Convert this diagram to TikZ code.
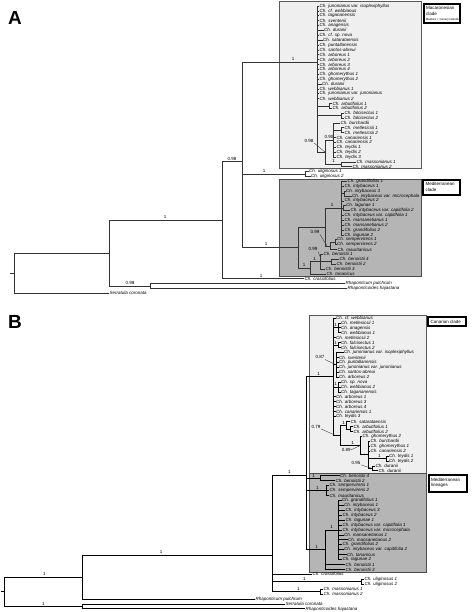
\documentclass[tikz,border=0pt]{standalone}
\usepackage{fontspec}
\setmainfont{Liberation Sans}
\definecolor{lbox}{RGB}{239,239,239}
\definecolor{dbox}{RGB}{181,181,181}
\newcommand{\tsz}{\fontsize{4.5}{5}\selectfont}
\newcommand{\ssz}{\fontsize{2.9}{3.4}\selectfont}
\tikzset{
  brA/.style={draw=black!80, line width=0.55pt},
  brB/.style={draw=black, line width=0.8pt},
  tx/.style={font=\tsz\itshape, anchor=west, inner sep=0.5pt},
  lbl/.style={font=\tsz, inner sep=0.4pt, anchor=south},
  plbl/.style={font=\tsz, inner sep=0.4pt},
  ptr/.style={draw=black!80, line width=0.35pt},
  lboxst/.style={fill=lbox, draw=black!65, line width=0.6pt},
  dboxst/.style={fill=dbox, draw=black!70, line width=0.6pt},
  labbox/.style={draw=black, line width=1.3pt, fill=white},
  labtxt/.style={font=\tsz, inner sep=0pt, anchor=west},
  labsm/.style={font=\ssz, inner sep=0pt, anchor=west},
  panel/.style={font=\fontsize{19}{19}\selectfont\bfseries, inner sep=0pt},
}
\begin{document}
\begin{tikzpicture}[x=1pt,y=-1pt]
\useasboundingbox (0,0) rectangle (474,612);
% ================= PANEL A =================
\node[panel] (pA) at (15,18) {A};
\draw[lboxst] (279,1.5) rectangle (421,168);
\draw[dboxst] (279,179) rectangle (421,276);
\draw[labbox] (424,4) rectangle (460,23);
\node[labtxt] (macA1) at (426,8) {Macaronesian};
\node[labtxt] (macA2) at (426,14) {clade};
\node[labsm] (macA3) at (425.6,19.5) {Madeira + Canary Islands};
\draw[labbox] (423,180) rectangle (460,195);
\node[labtxt] (medA1) at (425.5,184.3) {Mediterranean};
\node[labtxt] (medA2) at (425.5,190) {clade};

% Macaronesian clade tips
\node[tx] (a0) at (319,6.00) {Ch. junonianus var. isoplexiphyllus};
\node[tx] (a1) at (319,10.87) {Ch. cf. webbianus};
\node[tx] (a2) at (319,15.74) {Ch. tagananensis};
\node[tx] (a3) at (319,20.61) {Ch. sventenii};
\node[tx] (a4) at (319,25.48) {Ch. anagensis};
\node[tx] (a5) at (323.5,30.35) {Ch. duranii};
\node[tx] (a6) at (319,35.22) {Ch. cf. sp. nova};
\node[tx] (a7) at (322.5,40.09) {Ch. satarataensis};
\node[tx] (a8) at (319,44.96) {Ch. puntallanensis};
\node[tx] (a9) at (319,49.83) {Ch. santos-abreui};
\node[tx] (a10) at (319,54.70) {Ch. arboreus 1};
\node[tx] (a11) at (319,59.57) {Ch. arboreus 2};
\node[tx] (a12) at (319,64.44) {Ch. arboreus 3};
\node[tx] (a13) at (319,69.31) {Ch. arboreus 4};
\node[tx] (a14) at (319,74.18) {Ch. ghomerythus 1};
\node[tx] (a15) at (319,79.05) {Ch. ghomerythus 2};
\node[tx] (a16) at (321.5,83.92) {Ch. duranii};
\node[tx] (a17) at (319,88.79) {Ch. webbianus 1};
\node[tx] (a18) at (319,93.66) {Ch. junonianus var. junonianus};
\node[tx] (a19) at (319,98.53) {Ch. webbianus 2};
\node[tx] (a20) at (332,103.40) {Ch. arbutifolius 1};
\node[tx] (a21) at (332,108.27) {Ch. arbutifolius 2};
\node[tx] (a22) at (344,113.14) {Ch. falcisectus 1};
\node[tx] (a23) at (344,118.01) {Ch. falcisectus 2};
\node[tx] (a24) at (340,122.88) {Ch. burchardii};
\node[tx] (a25) at (344,127.75) {Ch. metlesicsii 1};
\node[tx] (a26) at (344,132.62) {Ch. metlesicsii 2};
\node[tx] (a27) at (336,137.49) {Ch. canariensis 1};
\node[tx] (a28) at (336,142.36) {Ch. canariensis 2};
\node[tx] (a29) at (336,147.23) {Ch. teydis 1};
\node[tx] (a30) at (336,152.10) {Ch. teydis 2};
\node[tx] (a31) at (336,156.97) {Ch. teydis 3};
\node[tx] (a32) at (356,161.84) {Ch. massonianus 1};
\node[tx] (a33) at (352,166.71) {Ch. massonianus 2};
\node[tx] (a34) at (308.5,171.58) {Ch. uliginosus 1};
\node[tx] (a35) at (310.5,176.45) {Ch. uliginosus 2};
% Mediterranean clade tips
\node[tx] (a36) at (347,181.32) {Ch. grandifolius 1};
\node[tx] (a37) at (344,186.19) {Ch. intybaceus 1};
\node[tx] (a38) at (345.5,191.06) {Ch. intybaceus 3};
\node[tx] (a39) at (351.5,195.93) {Ch. intybaceus var. microcephala};
\node[tx] (a40) at (344,200.80) {Ch. intybaceus 2};
\node[tx] (a41) at (345.5,205.67) {Ch. lagunae 1};
\node[tx] (a42) at (350,210.54) {Ch. intybaceus var. capitifolia 2};
\node[tx] (a43) at (344,215.41) {Ch. intybaceus var. capitifolia 1};
\node[tx] (a44) at (344,220.28) {Ch. mansanetianus 1};
\node[tx] (a45) at (344,225.15) {Ch. mansanetianus 2};
\node[tx] (a46) at (344,230.02) {Ch. grandifolius 2};
\node[tx] (a47) at (344,234.89) {Ch. lagunae 2};
\node[tx] (a48) at (336.5,239.76) {Ch. sempervirens 1};
\node[tx] (a49) at (336.5,244.63) {Ch. sempervirens 2};
\node[tx] (a50) at (337,249.50) {Ch. mauritanicus};
\node[tx] (a51) at (323,254.37) {Ch. benoistii 1};
\node[tx] (a52) at (339,259.24) {Ch. benoistii 4};
\node[tx] (a53) at (336,264.11) {Ch. benoistii 2};
\node[tx] (a54) at (325,268.98) {Ch. benoistii 3};
\node[tx] (a55) at (326,273.85) {Ch. tananicus};
\node[tx] (a56) at (304,278.72) {Ch. crassifolius};
\node[tx] (a57) at (345,283.59) {Rhaponticum pulchrum};
\node[tx] (a58) at (347,288.46) {Rhaponticoides hajastana};
\node[tx] (a59) at (109,293.33) {Serratula coronata};

% internal nodes A
\coordinate (M) at (317,62);
\coordinate (arbA) at (329,105.84);
\coordinate (falA) at (341,115.58);
\coordinate (n98A) at (325,152.1);
\coordinate (n90A) at (333,139.9);
\coordinate (metA) at (341,130.19);
\coordinate (masA) at (341,164.28);
\coordinate (uliA) at (305,174.0);
\coordinate (medA) at (298,247.4);
\coordinate (n1A) at (325,227.0);
\coordinate (n1aA) at (341,208.1);
\coordinate (p1A) at (344,193.5);
\coordinate (p2A) at (343.5,208.1);
\coordinate (semA) at (330,245.87);
\coordinate (sppA) at (335,242.2);
\coordinate (n2A) at (310,267.8);
\coordinate (n3A) at (320,261.68);
\coordinate (b42A) at (331,261.68);
\coordinate (nY) at (242,161.7);
\coordinate (nX) at (222,220.2);
\coordinate (nA1) at (109,253.1);
\coordinate (rhA) at (150,286.0);
\coordinate (rA) at (14,273.2);
\coordinate (rAt) at (10,273.2);

\begin{scope}[brA]
\foreach \i in {0,...,19} \draw (M) |- (a\i);
\draw (M) |- (arbA); \draw (arbA) |- (a20); \draw (arbA) |- (a21);
\draw (M) |- (falA); \draw (falA) |- (a22); \draw (falA) |- (a23);
\draw (M) |- (n98A);
\draw (n98A) |- (n90A); \draw (n98A) |- (masA);
\draw (n90A) |- (a24); \draw (n90A) |- (metA);
\draw (metA) |- (a25); \draw (metA) |- (a26);
\foreach \i in {27,...,31} \draw (n90A) |- (a\i);
\draw (masA) |- (a32); \draw (masA) |- (a33);
\draw (nY) |- (M); \draw (nY) |- (uliA); \draw (nY) |- (medA);
\draw (uliA) |- (a34); \draw (uliA) |- (a35);
\draw (medA) |- (n1A); \draw (medA) |- (n2A);
\draw (n1A) |- (n1aA); \draw (n1A) |- (semA);
\foreach \i in {36,37,40,43,44,45,46,47} \draw (n1aA) |- (a\i);
\draw (n1aA) |- (p1A); \draw (p1A) |- (a38); \draw (p1A) |- (a39);
\draw (n1aA) |- (p2A); \draw (p2A) |- (a41); \draw (p2A) |- (a42);
\draw (semA) |- (sppA); \draw (sppA) |- (a48); \draw (sppA) |- (a49);
\draw (semA) |- (a50);
\draw (n2A) |- (n3A); \draw (n2A) |- (a55);
\draw (n3A) |- (a51); \draw (n3A) |- (b42A); \draw (n3A) |- (a54);
\draw (b42A) |- (a52); \draw (b42A) |- (a53);
\draw (nX) |- (nY); \draw (nX) |- (a56);
\draw (nA1) |- (nX); \draw (nA1) |- (rhA);
\draw (rhA) |- (a57); \draw (rhA) |- (a58);
\draw (rA) |- (nA1); \draw (rA) |- (a59);
\draw (rAt) -- (rA);
\end{scope}

% support values A
\node[lbl] (sA1) at (293,61) {1};
\node[lbl] (sA2) at (232,160.7) {0.98};
\node[lbl] (sA3) at (264,173) {1};
\node[lbl] (sA4) at (266,246.4) {1};
\node[lbl] (sA5) at (261,277.7) {1};
\node[lbl] (sA6) at (165,219.2) {1};
\node[lbl] (sA7) at (130,285) {0.98};
\node[plbl] (sA8) at (309,140.7) {0.98};
\draw[ptr] (sA8.south east) -- (n98A);
\node[lbl] (sA9) at (329,139.2) {0.90};
\node[lbl] (sA10) at (333.5,163.3) {1};
\node[lbl] (sA11) at (332,207.1) {1};
\coordinate (semAs) at (327,245.87);
\node[plbl] (sA12) at (315,232.3) {0.99};
\draw[ptr] (sA12.south east) -- (semAs);
\coordinate (n3Ap) at (320,256.5);
\node[plbl] (sA13) at (313,249.3) {0.99};
\draw[ptr] (sA13.south east) -- (n3Ap);
\node[lbl] (sA14) at (314.5,260.9) {1};
\node[lbl] (sA15) at (304,266.8) {1};

% ================= PANEL B =================
\node[panel] (pB) at (15,322) {B};
\draw[lboxst] (309.5,315) rectangle (426.5,473);
\draw[dboxst] (309.5,473) rectangle (426.5,572);
\draw[labbox] (428,317) rectangle (466,326);
\node[labtxt] (canB1) at (430.5,321.5) {Canarian clade};
\draw[labbox] (429,475) rectangle (467,492);
\node[labtxt] (medB1) at (431,479.5) {Mediterranean};
\node[labtxt] (medB2) at (431,485.8) {lineages};

\node[tx] (b0) at (335.5,318.00) {Ch. cf. webbianus};
\node[tx] (b1) at (340.5,322.93) {Ch. metlesicsii 1};
\node[tx] (b2) at (340.5,327.86) {Ch. anagensis};
\node[tx] (b3) at (340.5,332.79) {Ch. webbianus 1};
\node[tx] (b4) at (335.5,337.72) {Ch. metlesicsii 2};
\node[tx] (b5) at (340.5,342.65) {Ch. falcisectus 1};
\node[tx] (b6) at (340.5,347.58) {Ch. falcisectus 2};
\node[tx] (b7) at (343.5,352.51) {Ch. junonianus var. isoplexiphyllus};
\node[tx] (b8) at (338.5,357.44) {Ch. sventenii};
\node[tx] (b9) at (338.5,362.37) {Ch. puntallanensis};
\node[tx] (b10) at (338.5,367.30) {Ch. junonianus var. junonianus};
\node[tx] (b11) at (338.5,372.23) {Ch. santos-abreui};
\node[tx] (b12) at (338.5,377.16) {Ch. arboreus 2};
\node[tx] (b13) at (340.5,382.09) {Ch. sp. nova};
\node[tx] (b14) at (340.5,387.02) {Ch. webbianus 2};
\node[tx] (b15) at (340.5,391.95) {Ch. tagananensis};
\node[tx] (b16) at (335.5,396.88) {Ch. arboreus 1};
\node[tx] (b17) at (335.5,401.81) {Ch. arboreus 3};
\node[tx] (b18) at (335.5,406.74) {Ch. arboreus 4};
\node[tx] (b19) at (335.5,411.67) {Ch. canariensis 1};
\node[tx] (b20) at (335.5,416.60) {Ch. teydis 3};
\node[tx] (b21) at (350,421.53) {Ch. satarataensis};
\node[tx] (b22) at (353,426.46) {Ch. arbutifolius 1};
\node[tx] (b23) at (353,431.39) {Ch. arbutifolius 2};
\node[tx] (b24) at (362,436.32) {Ch. ghomerythus 2};
\node[tx] (b25) at (370,441.25) {Ch. burchardii};
\node[tx] (b26) at (370,446.18) {Ch. ghomerythus 1};
\node[tx] (b27) at (370,451.11) {Ch. canariensis 2};
\node[tx] (b28) at (388.5,456.04) {Ch. teydis 1};
\node[tx] (b29) at (388.5,460.97) {Ch. teydis 2};
\node[tx] (b30) at (375,465.90) {Ch. duranii};
\node[tx] (b31) at (378,470.83) {Ch. duranii};
\node[tx] (b32) at (339.5,475.76) {Ch. benoistii 4};
\node[tx] (b33) at (335,480.69) {Ch. benoistii 2};
\node[tx] (b34) at (329,485.62) {Ch. sempervirens 1};
\node[tx] (b35) at (329,490.55) {Ch. sempervirens 2};
\node[tx] (b36) at (329,495.48) {Ch. mauritanicus};
\node[tx] (b37) at (341.5,500.41) {Ch. grandifolius 1};
\node[tx] (b38) at (343.5,505.34) {Ch. intybaceus 1};
\node[tx] (b39) at (345,510.27) {Ch. intybaceus 3};
\node[tx] (b40) at (342,515.20) {Ch. intybaceus 2};
\node[tx] (b41) at (345,520.13) {Ch. lagunae 1};
\node[tx] (b42) at (342,525.06) {Ch. intybaceus var. capitifolia 1};
\node[tx] (b43) at (342,529.99) {Ch. intybaceus var. microcephala};
\node[tx] (b44) at (343.5,534.92) {Ch. mansanetianus 1};
\node[tx] (b45) at (347.5,539.85) {Ch. mansanetianus 2};
\node[tx] (b46) at (342,544.78) {Ch. grandifolius 2};
\node[tx] (b47) at (343.5,549.71) {Ch. intybaceus var. capitifolia 2};
\node[tx] (b48) at (346.5,554.64) {Ch. tananicus};
\node[tx] (b49) at (342,559.57) {Ch. lagunae 2};
\node[tx] (b50) at (345,564.50) {Ch. benoistii 1};
\node[tx] (b51) at (345,569.43) {Ch. benoistii 3};
\node[tx] (b52) at (312,574.36) {Ch. crassifolius};
\node[tx] (b53) at (364,579.29) {Ch. uliginosus 1};
\node[tx] (b54) at (364,584.22) {Ch. uliginosus 2};
\node[tx] (b55) at (323,589.15) {Ch. massonianus 1};
\node[tx] (b56) at (323,594.08) {Ch. massonianus 2};
\node[tx] (b57) at (255,599.01) {Rhaponticum pulchrum};
\node[tx] (b58) at (285,603.94) {Serratula coronata};
\node[tx] (b59) at (305,608.87) {Rhaponticoides hajastana};

\coordinate (C0) at (333,376.7);
\coordinate (t1B) at (338.3,327.86);
\coordinate (falB) at (338.3,345.12);
\coordinate (n87B) at (336,364.84);
\coordinate (t2B) at (338.3,387.02);
\coordinate (n79B) at (340,435.4);
\coordinate (saB) at (346.7,425.2);
\coordinate (arbB) at (350.7,428.93);
\coordinate (n89B) at (360,445.6);
\coordinate (n1cB) at (368,454.8);
\coordinate (tyB) at (386.7,458.5);
\coordinate (n95B) at (372,468.37);
\coordinate (b42B) at (320,478.22);
\coordinate (semB) at (326.7,490.55);
\coordinate (bmB) at (325,549.7);
\coordinate (n1B) at (338.3,529.99);
\coordinate (B1) at (306.7,475);
\coordinate (uliB) at (361.7,581.76);
\coordinate (masB) at (320,591.62);
\coordinate (B0) at (272.3,555);
\coordinate (R1) at (82.3,577);
\coordinate (R2) at (82.3,606.4);
\coordinate (rB) at (4,591.7);
\coordinate (rBt) at (0.5,591.7);

\begin{scope}[brB]
\foreach \i in {0,4,16,17,18,19,20} \draw (C0) |- (b\i);
\draw (C0) |- (t1B); \foreach \i in {1,2,3} \draw (t1B) |- (b\i);
\draw (C0) |- (falB); \draw (falB) |- (b5); \draw (falB) |- (b6);
\draw (C0) |- (n87B); \foreach \i in {7,...,12} \draw (n87B) |- (b\i);
\draw (C0) |- (t2B); \foreach \i in {13,14,15} \draw (t2B) |- (b\i);
\draw (C0) |- (n79B);
\draw (n79B) |- (saB); \draw (saB) |- (b21); \draw (saB) |- (arbB);
\draw (arbB) |- (b22); \draw (arbB) |- (b23);
\draw (n79B) |- (n89B); \draw (n89B) |- (b24); \draw (n89B) |- (n1cB);
\foreach \i in {25,26,27} \draw (n1cB) |- (b\i);
\draw (n1cB) |- (tyB); \draw (tyB) |- (b28); \draw (tyB) |- (b29);
\draw (n1cB) |- (n95B); \draw (n95B) |- (b30); \draw (n95B) |- (b31);
\draw (B1) |- (C0);
\draw (B1) |- (b42B); \draw (b42B) |- (b32); \draw (b42B) |- (b33);
\draw (B1) |- (semB); \foreach \i in {34,35,36} \draw (semB) |- (b\i);
\draw (B1) |- (bmB); \draw (bmB) |- (n1B);
\foreach \i in {37,...,49} \draw (n1B) |- (b\i);
\draw (bmB) |- (b50); \draw (bmB) |- (b51);
\draw (B0) |- (B1); \draw (B0) |- (b52); \draw (B0) |- (uliB); \draw (B0) |- (masB);
\draw (uliB) |- (b53); \draw (uliB) |- (b54);
\draw (masB) |- (b55); \draw (masB) |- (b56);
\draw (R1) |- (B0); \draw (R1) |- (b57);
\draw (R2) |- (b58); \draw (R2) |- (b59);
\draw (rB) |- (R1); \draw (rB) |- (R2);
\draw (rBt) -- (rB);
\end{scope}

% support values B
\node[lbl] (sB1) at (318.5,375.7) {1};
\node[lbl] (sB2) at (335.6,327.3) {1};
\node[lbl] (sB3) at (335.6,344.6) {1};
\node[plbl] (sB4) at (320,357.3) {0.87};
\draw[ptr] (sB4.south east) -- (n87B);
\node[lbl] (sB5) at (335.6,386.5) {1};
\coordinate (p79B) at (335.5,435.4);
\node[plbl] (sB6) at (316,426.7) {0.79};
\draw[ptr] (sB6.south east) -- (p79B);
\node[lbl] (sB7) at (343.5,424.7) {1};
\node[lbl] (sB8) at (352.5,444.8) {1};
\node[plbl] (sB9) at (346.2,449.8) {0.89};
\draw[ptr] (sB9.east) -- (n89B);
\node[lbl] (sB10) at (379.3,458) {1};
\node[plbl] (sB11) at (356,462.7) {0.95};
\draw[ptr] (sB11.south east) -- (n95B);
\node[lbl] (sB12) at (313.5,477.7) {1};
\node[lbl] (sB13) at (317.3,490.0) {1};
\node[lbl] (sB14) at (316.7,549.2) {1};
\node[lbl] (sB15) at (331.7,529.5) {1};
\node[lbl] (sB16) at (289.3,474.5) {1};
\node[lbl] (sB17) at (304.3,581.2) {1};
\node[lbl] (sB18) at (298.3,591.1) {1};
\node[lbl] (sB19) at (161,554.5) {1};
\node[lbl] (sB20) at (44.3,576.5) {1};
\node[lbl] (sB21) at (43.3,605.9) {1};
\end{tikzpicture}
\end{document}
